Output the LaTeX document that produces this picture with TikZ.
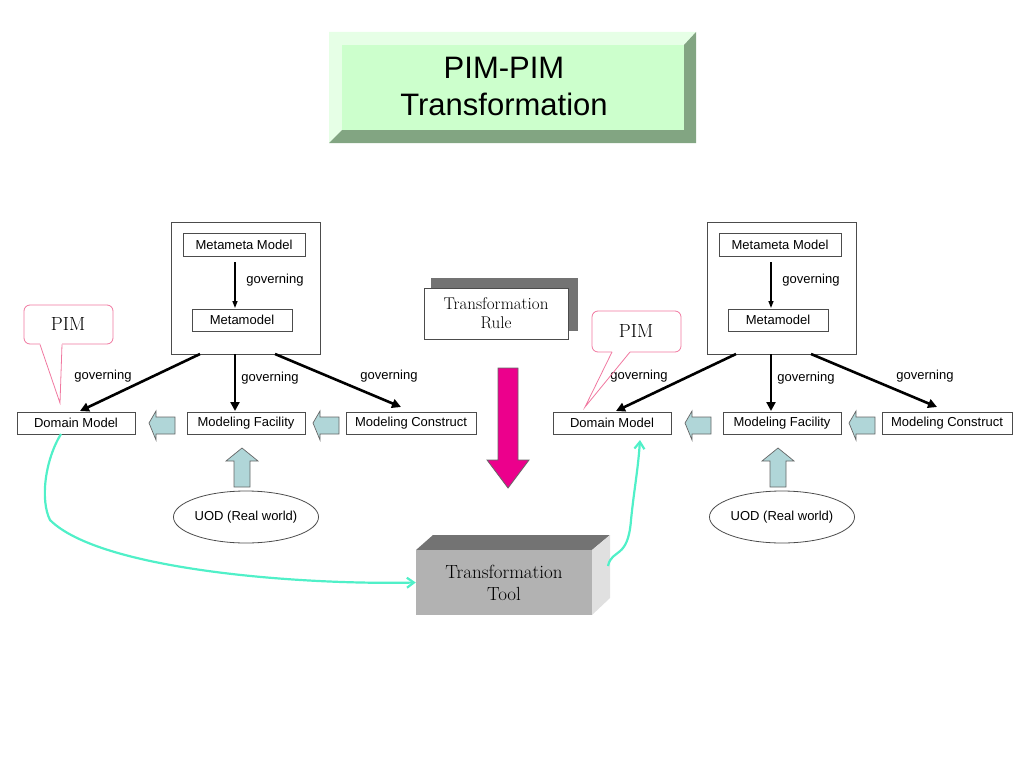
\documentclass[tikz,border=0pt]{standalone}
\usepackage{fontspec}
\setmainfont{Latin Modern Roman}
\newfontfamily\sans{Liberation Sans}
\usetikzlibrary{shapes.geometric,arrows.meta}
\definecolor{tgreen}{RGB}{204,255,204}
\definecolor{tgreenL}{RGB}{230,255,230}
\definecolor{tgreenD}{RGB}{130,165,130}
\definecolor{blk}{RGB}{176,214,216}
\definecolor{cyanl}{RGB}{80,240,200}
\definecolor{pinkc}{RGB}{240,120,160}
\begin{document}
\begin{tikzpicture}[x=1pt,y=-1pt,
 box/.style={draw=black!70,fill=white,inner sep=0,line width=0.8pt,font=\sans\fontsize{13}{15}\selectfont},
 lab/.style={font=\sans\fontsize{13}{15}\selectfont},
 gov/.style={-{Triangle[length=9pt,width=9pt]},line width=2.6pt},
 thin/.style={-{Triangle[length=7pt,width=5pt]},line width=1.4pt},
 blka/.style={draw=black!60,fill=blk,line width=0.7pt},
 cy/.style={cyanl,line width=2.2pt,-{Straight Barb[length=7pt,width=10pt]}}]
\useasboundingbox (0,0) rectangle (1024,768);
% title
\fill[tgreenL] (329,32)--(696,32)--(684,45)--(342,45)--(342,130)--(329,143)--cycle;
\fill[tgreenD] (696,32)--(696,143)--(329,143)--(342,130)--(684,130)--(684,45)--cycle;
\fill[tgreen] (342,45) rectangle (684,130);
\node[font=\sans\fontsize{31}{37}\selectfont,align=center] (title) at (504,86) {PIM-PIM\\Transformation};
\foreach \dx/\p in {0/L,536/R}{
\begin{scope}[xshift=\dx]
\node[draw=black!70,line width=0.8pt,minimum width=149,minimum height=132,inner sep=0] (big\p) at (245.5,288) {};
\node[box,minimum width=122,minimum height=23] (mm\p) at (244,244.5) {Metameta Model};
\node[box,minimum width=100,minimum height=22] (meta\p) at (242,320) {Metamodel};
\coordinate (t\p) at (235,262);
\draw[thin] (t\p) -- (235,308);
\node[lab] (g1\p) at (275,280) {governing};
\node[box,minimum width=118,minimum height=22] (dm\p) at (76,423) {Domain Model};
\node[box,minimum width=118,minimum height=22] (mf\p) at (246,423) {Modeling Facility};
\node[box,minimum width=130,minimum height=22] (mc\p) at (411,423) {Modeling Construct};
\coordinate (s1\p) at (200,354); \coordinate (s2\p) at (235,354); \coordinate (s3\p) at (275,354);
\draw[gov] (s1\p) -- (80,411);
\draw[gov] (s2\p) -- (235,411);
\draw[gov] (s3\p) -- (401,407);
\node[lab] (g2\p) at (103,376) {governing};
\node[lab] (g3\p) at (270,378) {governing};
\node[lab] (g4\p) at (389,376) {governing};
\draw[blka] (149,423)--(156,411)--(156,417)--(175,417)--(175,434)--(156,434)--(156,440)--cycle;
\draw[blka] (313,423)--(320,411)--(320,417)--(339,417)--(339,434)--(320,434)--(320,440)--cycle;
\draw[blka] (242,448)--(258,461)--(250,461)--(250,487)--(234,487)--(234,461)--(226,461)--cycle;
\node[draw=black!70,line width=0.8pt,ellipse,inner sep=0,minimum width=120,minimum height=52,lab] (uod\p) at (246,517) {UOD (Real world)};
\end{scope}}
% PIM callouts
\draw[pinkc,line width=0.8pt,fill=white,rounded corners=6] (40,344)--(24,344)--(24,305)--(113,305)--(113,344)--(62,344);
\draw[pinkc,line width=0.8pt] (40,344.5)--(60,403)--(62,344.5);
\node[font=\fontsize{19}{22}\selectfont] (pimL) at (68,324) {PIM};
\draw[pinkc,line width=0.8pt,rounded corners=6] (612,352)--(592,352)--(592,311)--(681,311)--(681,352)--(630,352);
\draw[pinkc,line width=0.8pt] (612,352)--(585,407)--(630,352);
\node[font=\fontsize{19}{22}\selectfont] (pimR) at (636,331) {PIM};
% Transformation rule
\fill[black!55] (431,278) rectangle (578,331);
\node[draw=black!70,line width=0.8pt,fill=white,minimum width=144,minimum height=51,align=center,font=\fontsize{17}{19}\selectfont,inner sep=0] (rule) at (496,313.5) {Transformation\\Rule};
% magenta arrow
\draw[black!60,fill=magenta,line width=0.8pt] (498,368)--(518,368)--(518,460)--(529,460)--(508,488)--(487,460)--(498,460)--cycle;
% tool
\fill[black!55] (416,550)--(433,535)--(610,535)--(592,550)--cycle;
\fill[black!12] (592,550)--(610,535)--(610,598)--(592,615)--cycle;
\node[fill=black!30,minimum width=176,minimum height=65,align=center,font=\fontsize{19}{22}\selectfont,inner sep=0] (tool) at (504,582.5) {Transformation\\Tool};
% cyan
\coordinate (cl) at (61,434);
\coordinate (cr) at (608,566);
\coordinate (er) at (640,440);
\draw[cy] (cl) .. controls (45,460) and (40,500) .. (50,520) .. controls (100,570) and (300,585) .. (tool.west);
\draw[cy] (cr) .. controls (612,548) and (628,560) .. (631,520) .. controls (634,490) and (638,470) .. (er);
\end{tikzpicture}
\end{document}
